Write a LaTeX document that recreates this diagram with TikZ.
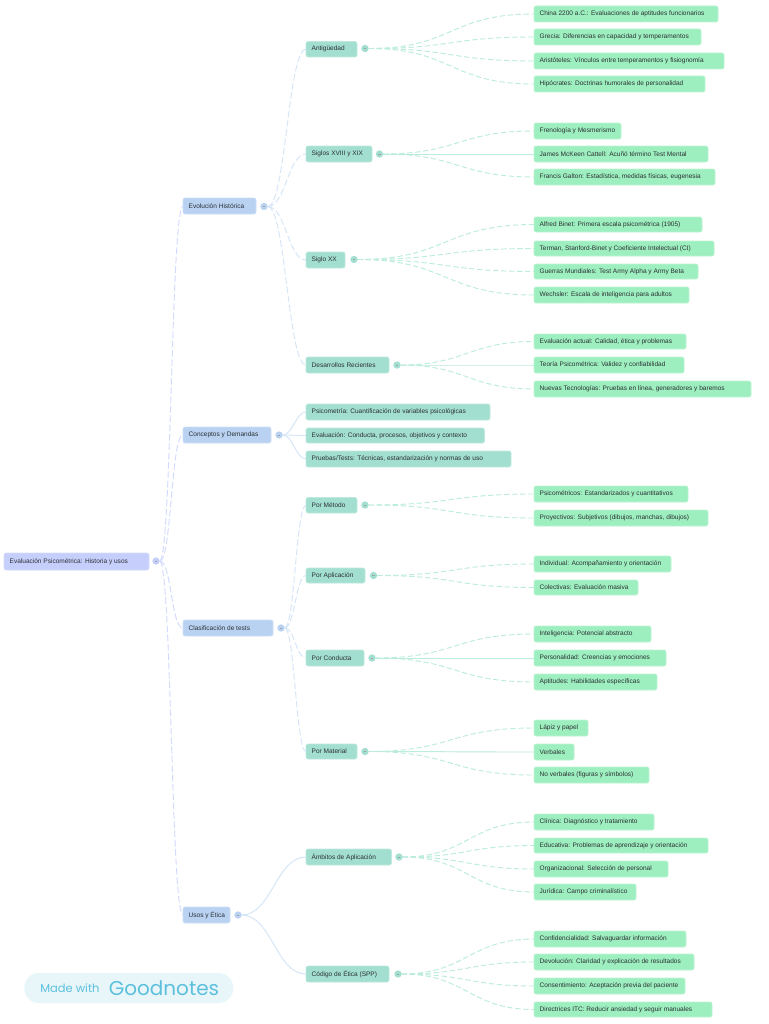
\documentclass[tikz,border=0pt]{standalone}
\usepackage{fontspec}
\setmainfont{Liberation Sans}
\newfontfamily\logofont{Poppins}
\definecolor{rootfill}{HTML}{C6CFFB}
\definecolor{bluefill}{HTML}{B9D2F2}
\definecolor{tealfill}{HTML}{A3DFD0}
\definecolor{greenfill}{HTML}{9EEFBF}
\definecolor{rootedge}{HTML}{D2DAFD}
\definecolor{blueedge}{HTML}{D5E5F8}
\definecolor{tealedge}{HTML}{BBECDD}
\definecolor{ink}{HTML}{2A2F33}
\definecolor{logoblue}{HTML}{5CC0DC}
\definecolor{logobg}{HTML}{E8F6FA}
\newcommand{\mapbox}[7]{%
  \pgfmathsetmacro\boxw{(#4-#3)*0.75}%
  \pgfmathsetmacro\boxh{(#6-#5)*0.75}%
  \pgfmathsetmacro\boxy{(#5+#6)/2}%
  \pgfmathsetmacro\boxt{\boxw-8.5}%
  \node[#2,minimum width=\boxw pt,minimum height=\boxh pt,anchor=west] (#1) at (#3,\boxy) {\makebox[\boxt pt][l]{#7}};}
\newcommand{\mapdot}[4]{\node[dotnode,fill=#4] (#1) at (#2,#3) {};}
% connector: start name, end name, control reach, style
\newcommand{\link}[4]{\draw[#4] (#1.east) .. controls +(#3,0) and +(-#3,0) .. (#2.west);}
\tikzset{
  boxbase/.style={inner sep=0pt,outer sep=0pt,rounded corners=1.5pt,font=\fontsize{4.9}{6}\selectfont,text=ink,line width=0.4pt},
  rootbox/.style={boxbase,fill=rootfill,draw=rootfill!70!white},
  bluebox/.style={boxbase,fill=bluefill,draw=bluefill!70!white},
  tealbox/.style={boxbase,fill=tealfill,draw=tealfill!70!white},
  greenbox/.style={boxbase,fill=greenfill,draw=greenfill!70!white},
  dotnode/.style={circle,inner sep=0pt,outer sep=0pt,minimum size=5.5pt,
    path picture={\draw[ink!45,line width=0.3pt] ([xshift=-0.9pt]path picture bounding box.center) -- ([xshift=0.9pt]path picture bounding box.center);}},
  rootdash/.style={draw=rootedge,line width=0.7pt,dash pattern=on 5pt off 2pt},
  bluedash/.style={draw=blueedge,line width=0.7pt,dash pattern=on 5pt off 2pt},
  bluesolid/.style={draw=blueedge,line width=0.7pt},
  tealdash/.style={draw=tealedge,line width=0.7pt,dash pattern=on 4pt off 2pt},
  tealsolid/.style={draw=tealedge,line width=0.7pt},
}
\begin{document}
\begin{tikzpicture}[x=0.75pt,y=-0.75pt]
\useasboundingbox (0,0) rectangle (768,1024);
\fill[white] (0,0) rectangle (768,1024);
% root
\mapbox{root}{rootbox}{4}{149}{553}{570}{Evaluación Psicométrica: Historia y usos}
\mapdot{droot}{156}{561}{rootfill}
% level 1
\mapbox{hist}{bluebox}{183}{256}{198}{214}{Evolución Histórica}
\mapdot{dhist}{264}{206.5}{bluefill}
\mapbox{conc}{bluebox}{183}{271}{427}{443}{Conceptos y Demandas}
\mapdot{dconc}{279}{435}{bluefill}
\mapbox{clas}{bluebox}{183}{273}{620}{636}{Clasificación de tests}
\mapdot{dclas}{281}{628}{bluefill}
\mapbox{usos}{bluebox}{183}{230}{907}{923}{Usos y Ética}
\mapdot{dusos}{238}{915}{bluefill}
% level 2
\mapbox{anti}{tealbox}{306}{357}{41.5}{57}{Antigüedad}
\mapdot{danti}{365}{48.5}{tealfill}
\mapbox{sigl}{tealbox}{306}{372}{146}{162}{Siglos XVIII y XIX}
\mapdot{dsigl}{379.5}{154}{tealfill}
\mapbox{sxx}{tealbox}{306}{345}{252}{268}{Siglo XX}
\mapdot{dsxx}{354}{259.5}{tealfill}
\mapbox{recn}{tealbox}{306}{389}{357}{373}{Desarrollos Recientes}
\mapdot{drecn}{397}{365}{tealfill}
\mapbox{psic}{tealbox}{306}{490}{404}{420}{Psicometría: Cuantificación de variables psicológicas}
\mapbox{eval}{tealbox}{306}{484.5}{428}{443}{Evaluación: Conducta, procesos, objetivos y contexto}
\mapbox{test}{tealbox}{306}{511}{451}{467}{Pruebas/Tests: Técnicas, estandarización y normas de uso}
\mapbox{meto}{tealbox}{306}{357}{497.5}{513}{Por Método}
\mapdot{dmeto}{365}{505}{tealfill}
\mapbox{apli}{tealbox}{306}{365}{568}{583}{Por Aplicación}
\mapdot{dapli}{373.5}{575.5}{tealfill}
\mapbox{cond}{tealbox}{306}{364}{650}{666}{Por Conducta}
\mapdot{dcond}{372}{658}{tealfill}
\mapbox{mate}{tealbox}{306}{357}{744}{759}{Por Material}
\mapdot{dmate}{365}{751.5}{tealfill}
\mapbox{ambi}{tealbox}{306}{391.5}{849}{865}{Ámbitos de Aplicación}
\mapdot{dambi}{399}{857}{tealfill}
\mapbox{codi}{tealbox}{306}{389}{966}{982}{Código de Ética (SPP)}
\mapdot{dcodi}{398}{974}{tealfill}
% level 3
\mapbox{a1}{greenbox}{534}{718}{6}{22}{China 2200 a.C.: Evaluaciones de aptitudes funcionarios}
\mapbox{a2}{greenbox}{534}{701}{29}{45}{Grecia: Diferencias en capacidad y temperamentos}
\mapbox{a3}{greenbox}{534}{724}{53}{69}{Aristóteles: Vínculos entre temperamentos y fisiognomía}
\mapbox{a4}{greenbox}{534}{705}{76}{92}{Hipócrates: Doctrinas humorales de personalidad}
\mapbox{s1}{greenbox}{534}{621}{123}{139}{Frenología y Mesmerismo}
\mapbox{s2}{greenbox}{534}{708}{146}{162}{James McKeen Cattell: Acuñó término Test Mental}
\mapbox{s3}{greenbox}{534}{715}{169}{185}{Francis Galton: Estadística, medidas físicas, eugenesia}
\mapbox{x1}{greenbox}{534}{702}{217}{232}{Alfred Binet: Primera escala psicométrica (1905)}
\mapbox{x2}{greenbox}{534}{714}{241}{256}{Terman, Stanford-Binet y Coeficiente Intelectual (CI)}
\mapbox{x3}{greenbox}{534}{698}{264}{279}{Guerras Mundiales: Test Army Alpha y Army Beta}
\mapbox{x4}{greenbox}{534}{689}{287}{303}{Wechsler: Escala de inteligencia para adultos}
\mapbox{r1}{greenbox}{534}{686}{334}{349}{Evaluación actual: Calidad, ética y problemas}
\mapbox{r2}{greenbox}{534}{684}{357}{373}{Teoría Psicométrica: Validez y confiabilidad}
\mapbox{r3}{greenbox}{534}{751}{381}{397}{Nuevas Tecnologías: Pruebas en línea, generadores y baremos}
\mapbox{m1}{greenbox}{534}{688}{486}{502}{Psicométricos: Estandarizados y cuantitativos}
\mapbox{m2}{greenbox}{534}{708}{510}{526}{Proyectivos: Subjetivos (dibujos, manchas, dibujos)}
\mapbox{p1}{greenbox}{534}{671}{556}{572}{Individual: Acompañamiento y orientación}
\mapbox{p2}{greenbox}{534}{638}{580}{595}{Colectivas: Evaluación masiva}
\mapbox{c1}{greenbox}{534}{651}{626}{642}{Inteligencia: Potencial abstracto}
\mapbox{c2}{greenbox}{534}{666}{650}{666}{Personalidad: Creencias y emociones}
\mapbox{c3}{greenbox}{534}{657}{674}{690}{Aptitudes: Habilidades específicas}
\mapbox{t1}{greenbox}{534}{588}{720}{736}{Lápiz y papel}
\mapbox{t2}{greenbox}{534}{574}{744}{760}{Verbales}
\mapbox{t3}{greenbox}{534}{649}{767}{783}{No verbales (figuras y símbolos)}
\mapbox{b1}{greenbox}{534}{654}{814}{830}{Clínica: Diagnóstico y tratamiento}
\mapbox{b2}{greenbox}{534}{708}{838}{853}{Educativa: Problemas de aprendizaje y orientación}
\mapbox{b3}{greenbox}{534}{668}{861}{877}{Organizacional: Selección de personal}
\mapbox{b4}{greenbox}{534}{636}{884}{900}{Jurídica: Campo criminalístico}
\mapbox{e1}{greenbox}{534}{686}{931}{947}{Confidencialidad: Salvaguardar información}
\mapbox{e2}{greenbox}{534}{694}{954}{970}{Devolución: Claridad y explicación de resultados}
\mapbox{e3}{greenbox}{534}{685}{978}{994}{Consentimiento: Aceptación previa del paciente}
\mapbox{e4}{greenbox}{534}{712}{1002}{1017}{Directrices ITC: Reducir ansiedad y seguir manuales}
% root connectors
\link{droot}{hist}{12}{rootdash}
\link{droot}{conc}{12}{rootdash}
\link{droot}{clas}{12}{rootdash}
\link{droot}{usos}{12}{rootdash}
% level 1 connectors
\foreach \c in {anti,sigl,sxx,recn} {\link{dhist}{\c}{18}{bluedash}}
\link{dconc}{psic}{10}{bluesolid}
\link{dconc}{eval}{10}{bluesolid}
\link{dconc}{test}{10}{bluesolid}
\foreach \c in {meto,apli,cond,mate} {\link{dclas}{\c}{10}{bluedash}}
\link{dusos}{ambi}{30}{bluesolid}
\link{dusos}{codi}{30}{bluesolid}
% level 2 connectors
\foreach \c in {a1,a2,a3,a4} {\link{danti}{\c}{85}{tealdash}}
\link{dsigl}{s1}{75}{tealdash}
\link{dsigl}{s2}{75}{tealsolid}
\link{dsigl}{s3}{75}{tealdash}
\foreach \c in {x1,x2,x3,x4} {\link{dsxx}{\c}{90}{tealdash}}
\link{drecn}{r1}{65}{tealdash}
\link{drecn}{r2}{65}{tealsolid}
\link{drecn}{r3}{65}{tealdash}
\foreach \c in {m1,m2} {\link{dmeto}{\c}{85}{tealdash}}
\foreach \c in {p1,p2} {\link{dapli}{\c}{80}{tealdash}}
\link{dcond}{c1}{80}{tealdash}
\link{dcond}{c2}{80}{tealsolid}
\link{dcond}{c3}{80}{tealdash}
\link{dmate}{t1}{85}{tealdash}
\link{dmate}{t2}{85}{tealsolid}
\link{dmate}{t3}{85}{tealdash}
\foreach \c in {b1,b2,b3,b4} {\link{dambi}{\c}{65}{tealdash}}
\foreach \c in {e1,e2,e3,e4} {\link{dcodi}{\c}{65}{tealdash}}
% logo
\node[fill=logobg,rounded corners=11pt,minimum width=156.75pt,minimum height=22.5pt,inner sep=0pt,anchor=west] (logo) at (24,988) {};
\node[text=logoblue,font=\logofont\fontsize{8.6}{9}\selectfont,anchor=west,inner sep=0pt] (made) at (40,988.5) {Made with};
\node[text=logoblue,font=\logofont\fontsize{15}{16}\selectfont,anchor=west,inner sep=0pt] (good) at (108.5,988) {Goodnotes};
\end{tikzpicture}
\end{document}
